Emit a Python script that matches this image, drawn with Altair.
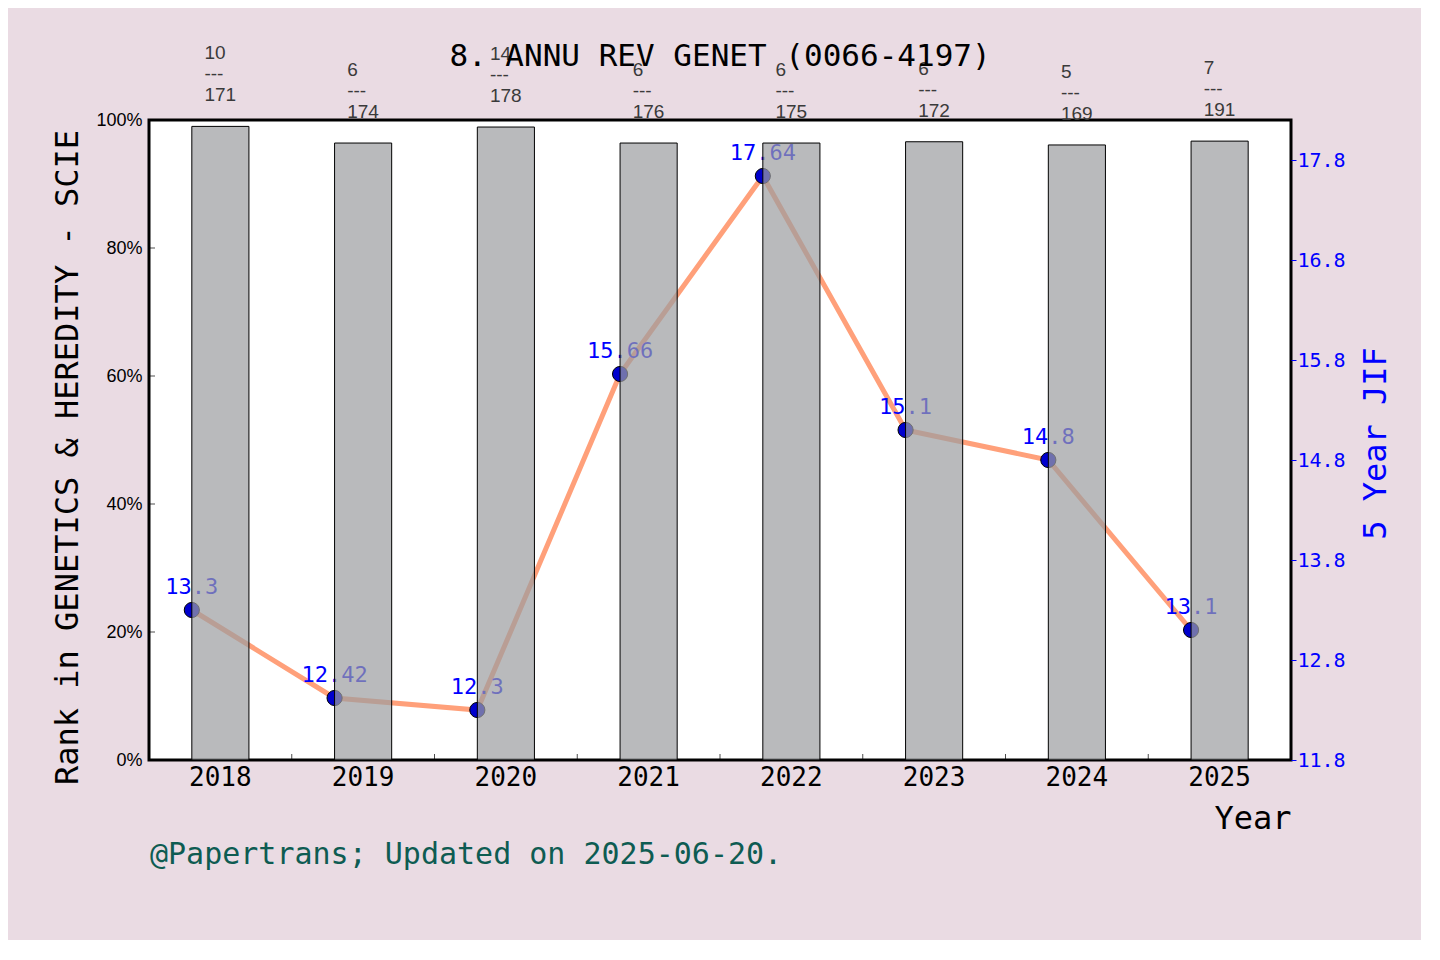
import altair as alt
import pandas as pd

# ---- data ----
years = ["2018", "2019", "2020", "2021", "2022", "2023", "2024", "2025"]
rank_pct = [0.990, 0.964, 0.989, 0.964, 0.964, 0.966, 0.961, 0.967]
rank_num = [10, 6, 14, 6, 6, 6, 5, 7]
cat_total = [171, 174, 178, 176, 175, 172, 169, 191]
jif5 = [13.3, 12.42, 12.3, 15.66, 17.64, 15.1, 14.8, 13.1]
jif5_text = ["13.3", "12.42", "12.3", "15.66", "17.64", "15.1", "14.8", "13.1"]
pct_ticks = [0.0, 0.2, 0.4, 0.6, 0.8, 1.0]
pct_inner_ticks = [0.2, 0.4, 0.6, 0.8]
jif_ticks = [11.8, 12.8, 13.8, 14.8, 15.8, 16.8, 17.8]
jif_domain = [11.8, 18.2]
title_text = "8. ANNU REV GENET (0066-4197)"
footer_text = "@Papertrans; Updated on 2025-06-20."

W, H = 1142, 640
MONO = "DejaVu Sans Mono"
SANS = "Liberation Sans"

df = pd.DataFrame({
    "year": years,
    "rank": rank_pct,
    "jif": jif5,
    "jif_text": jif5_text,
    "frac": [f"{n}\n---\n{d}" for n, d in zip(rank_num, cat_total)],
})
tick_df = pd.DataFrame({"rank": pct_inner_ticks})
foot_df = pd.DataFrame({"t": [footer_text]})
title_df = pd.DataFrame({"t": [title_text]})

xscale = alt.Scale(paddingInner=0, paddingOuter=0)
xaxis = alt.Axis(
    title="Year", domain=False, ticks=False, labelAngle=0,
    labelFont=MONO, labelFontSize=26, labelColor="black", labelPadding=4,
    titleFont=MONO, titleFontSize=32, titleFontWeight="normal", titleColor="black",
    titleAnchor="end", titleY=58, titleBaseline="middle",
)


def X(bp=0.5):
    return alt.X("year:O", scale=xscale, axis=xaxis, bandPosition=bp, sort=years)


# ---- right axis layer (5 year JIF) ----
yj_axis = alt.Axis(
    orient="right", values=jif_ticks, format=".1f", domain=False,
    tickColor="#0000ff", tickSize=5, labelColor="#0000ff", labelFont=MONO,
    labelFontSize=20, labelPadding=1, grid=False,
    title="5 Year JIF", titleFont=MONO, titleFontSize=32, titleFontWeight="normal",
    titleColor="#0000ff", titleAngle=270, titleX=84, titleY=323,
    titleBaseline="middle", titleAlign="center",
)
YJ = alt.Y("jif:Q", scale=alt.Scale(domain=jif_domain, nice=False, zero=False), axis=yj_axis)

line = alt.Chart(df).mark_line(color="#FFA07A", strokeWidth=5).encode(x=X(0.3), y=YJ)
pts = alt.Chart(df).mark_point(
    filled=True, color="#0000CD", size=230, stroke="black", strokeWidth=1, opacity=1
).encode(x=X(0.3), y=YJ)
jlab = alt.Chart(df).mark_text(
    font=MONO, fontSize=22, color="#0000ff", baseline="bottom", dy=-11, align="center"
).encode(x=X(0.3), y=YJ, text="jif_text:N")
right_layer = alt.layer(line, pts, jlab)

# ---- left axis layer (rank percentile bars) ----
yr_axis = alt.Axis(
    orient="left", values=pct_ticks, format=".0%", domain=False, ticks=False,
    labelFont=SANS, labelFontSize=18, labelColor="black", labelPadding=7, grid=False,
    title="Rank in GENETICS & HEREDITY - SCIE", titleFont=MONO, titleFontSize=32,
    titleFontWeight="normal", titleColor="black", titleAngle=270,
    titleX=-82, titleY=337, titleBaseline="middle", titleAlign="center",
)
YR = alt.Y("rank:Q", scale=alt.Scale(domain=[0, 1], nice=False), axis=yr_axis)

bars = alt.Chart(df).mark_bar(
    width=alt.RelativeBandSize(0.4), color="#9d9ea0", fillOpacity=0.71,
    stroke="black", strokeWidth=1,
).encode(x=X(0.5), y=YR)
frac = alt.Chart(df).mark_text(
    font=SANS, fontSize=19, color="#3a3a3a", align="left", dx=-16,
    baseline="top", dy=-82, lineBreak="\n", lineHeight=21,
).encode(x=X(0.5), y=YR, text="frac:N")
lticks = alt.Chart(tick_df).mark_tick(
    orient="horizontal", size=6, thickness=1, color="black"
).encode(y=YR, x=alt.value(3))
bticks = alt.Chart(df).mark_tick(
    orient="vertical", size=6, thickness=1, color="black"
).encode(x=X(0.0), y=alt.value(H - 3))
foot = alt.Chart(foot_df).mark_text(
    font=MONO, fontSize=30, color="#0e5c52", align="left", baseline="middle"
).encode(x=alt.value(1), y=alt.value(735), text="t:N")
ttl = alt.Chart(title_df).mark_text(
    font=MONO, fontSize=31, color="black", align="center", baseline="middle"
).encode(x=alt.value(W / 2), y=alt.value(-63), text="t:N")
left_layer = alt.layer(bars, frac, lticks, bticks, foot, ttl)

chart = alt.layer(right_layer, left_layer).resolve_scale(y="independent").properties(
    width=W, height=H,
    autosize=alt.AutoSizeParams(type="none"),
    padding={"left": 141, "top": 112, "right": 130, "bottom": 180},
).configure(background="#eadbe3").configure_view(
    fill="white", stroke="black", strokeWidth=3
)

chart.save("out.html", embed_options={"renderer": "svg", "actions": False})
